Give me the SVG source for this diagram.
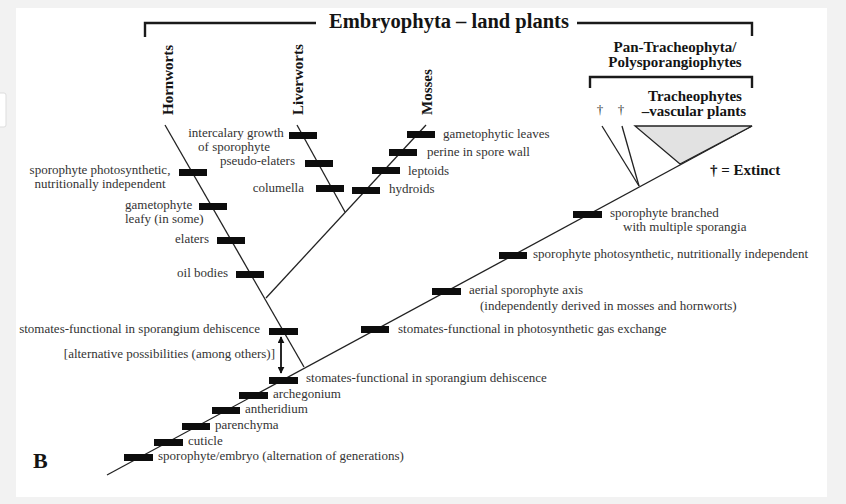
<svg xmlns="http://www.w3.org/2000/svg" width="846" height="504" viewBox="0 0 846 504">
<defs>
<style>
.t{font-family:"Liberation Serif","Times New Roman",serif;font-size:13px;fill:#333}
.b{font-family:"Liberation Serif","Times New Roman",serif;font-weight:bold;fill:#141414}
.ln{stroke:#222;stroke-width:1.3;fill:none}
.br{stroke:#1a1a1a;stroke-width:2.4;fill:none}
.bar{fill:#0d0d0d}
</style>
<marker id="ah" viewBox="0 0 10 10" refX="9" refY="5" markerWidth="7" markerHeight="7" orient="auto-start-reverse" markerUnits="userSpaceOnUse">
<path d="M0,0 L10,5 L0,10 z" fill="#111"/>
</marker>
</defs>
<rect x="0" y="0" width="846" height="504" fill="#f2f2f2"/>
<rect x="16" y="8" width="811" height="489" fill="#ffffff"/>
<rect x="-2" y="93" width="8" height="34" rx="2" fill="#ffffff" stroke="#dddddd"/>

<g id="connectors">
<line class="ln" x1="107" y1="475" x2="752" y2="126"/>
<line class="ln" x1="165" y1="125" x2="304" y2="367"/>
<line class="ln" x1="266" y1="298" x2="426" y2="125"/>
<line class="ln" x1="297" y1="125" x2="345" y2="212"/>
<line class="ln" x1="602" y1="126" x2="639" y2="186"/>
<line class="ln" x1="622" y1="126" x2="639" y2="186"/>
<polygon points="635,126 752,126 680,164" fill="#e2e2e2" stroke="#222" stroke-width="1.3"/>
<line x1="281" y1="337" x2="281" y2="373" stroke="#111" stroke-width="1.8" marker-start="url(#ah)" marker-end="url(#ah)"/>
</g>

<g id="embryophyta">
<path class="br" d="M145,37 V23 H316"/>
<path class="br" d="M577,23 H752 V36"/>
<text class="b" x="449" y="28" font-size="20.5" text-anchor="middle">Embryophyta – land plants</text>
</g>

<g id="pan-tracheophyta">
<text class="b" x="675" y="52" font-size="15" text-anchor="middle">Pan-Tracheophyta/</text>
<text class="b" x="675" y="67" font-size="15" text-anchor="middle">Polysporangiophytes</text>
<path class="br" d="M590,88 V77 H752 V88"/>
</g>

<g id="tracheophytes">
<text class="b" x="695" y="101" font-size="15" text-anchor="middle">Tracheophytes</text>
<text class="b" x="694" y="116" font-size="15" text-anchor="middle">–vascular plants</text>
<text class="t" x="600" y="114" text-anchor="middle" font-size="14">†</text>
<text class="t" x="621" y="114" text-anchor="middle" font-size="14">†</text>
</g>

<g id="legend">
<text class="b" x="710" y="175" font-size="15">† = Extinct</text>
<text class="b" x="33" y="468" font-size="22">B</text>
</g>

<g id="hornworts">
<text class="b" font-size="15" transform="translate(173,115) rotate(-90)">Hornworts</text>
<rect class="bar" x="179" y="169" width="28" height="7"/>
<text class="t" x="100" y="174" text-anchor="middle">sporophyte photosynthetic,</text>
<text class="t" x="100" y="188" text-anchor="middle">nutritionally independent</text>
<rect class="bar" x="199" y="203" width="28" height="7"/>
<text class="t" x="125" y="209">gametophyte</text>
<text class="t" x="125" y="223">leafy (in some)</text>
<rect class="bar" x="217" y="237" width="28" height="7"/>
<text class="t" x="209" y="243" text-anchor="end">elaters</text>
<rect class="bar" x="236" y="271" width="28" height="7"/>
<text class="t" x="228" y="277" text-anchor="end">oil bodies</text>
<rect class="bar" x="269" y="328" width="29" height="7"/>
<text class="t" x="260" y="333" text-anchor="end">stomates-functional in sporangium dehiscence</text>
<text class="t" x="275" y="358" text-anchor="end">[alternative possibilities (among others)]</text>
</g>

<g id="liverworts">
<text class="b" font-size="15" transform="translate(303,115) rotate(-90)">Liverworts</text>
<rect class="bar" x="289" y="132" width="28" height="7"/>
<text class="t" x="236" y="137" text-anchor="middle">intercalary growth</text>
<text class="t" x="234" y="151" text-anchor="middle">of sporophyte</text>
<rect class="bar" x="305" y="160" width="28" height="7"/>
<text class="t" x="295" y="165" text-anchor="end">pseudo-elaters</text>
<rect class="bar" x="316" y="185" width="28" height="7"/>
<text class="t" x="304" y="192" text-anchor="end">columella</text>
</g>

<g id="mosses">
<text class="b" font-size="15" transform="translate(432,115) rotate(-90)">Mosses</text>
<rect class="bar" x="407" y="131" width="28" height="7"/>
<text class="t" x="443" y="138">gametophytic leaves</text>
<rect class="bar" x="389" y="149" width="28" height="7"/>
<text class="t" x="427" y="156">perine in spore wall</text>
<rect class="bar" x="372" y="167" width="28" height="7"/>
<text class="t" x="408" y="175">leptoids</text>
<rect class="bar" x="352" y="187" width="28" height="7"/>
<text class="t" x="389" y="193">hydroids</text>
</g>

<g id="trunk">
<rect class="bar" x="124" y="454" width="29" height="7"/>
<text class="t" x="158" y="460">sporophyte/embryo (alternation of generations)</text>
<rect class="bar" x="154" y="439" width="29" height="7"/>
<text class="t" x="188" y="445">cuticle</text>
<rect class="bar" x="182" y="423" width="28" height="7"/>
<text class="t" x="215" y="429">parenchyma</text>
<rect class="bar" x="212" y="407" width="28" height="7"/>
<text class="t" x="245" y="413">antheridium</text>
<rect class="bar" x="239" y="392" width="29" height="7"/>
<text class="t" x="273" y="398">archegonium</text>
<rect class="bar" x="269" y="377" width="29" height="7"/>
<text class="t" x="306" y="382">stomates-functional in sporangium dehiscence</text>
<rect class="bar" x="361" y="326" width="28" height="7"/>
<text class="t" x="398" y="333">stomates-functional in photosynthetic gas exchange</text>
<rect class="bar" x="432" y="288" width="29" height="7"/>
<text class="t" x="469" y="294">aerial sporophyte axis</text>
<text class="t" x="480" y="310">(independently derived in mosses and hornworts)</text>
<rect class="bar" x="499" y="252" width="28" height="7"/>
<text class="t" x="533" y="258">sporophyte photosynthetic, nutritionally independent</text>
<rect class="bar" x="573" y="211" width="29" height="7"/>
<text class="t" x="610" y="217">sporophyte branched</text>
<text class="t" x="623" y="231">with multiple sporangia</text>
</g>
</svg>
